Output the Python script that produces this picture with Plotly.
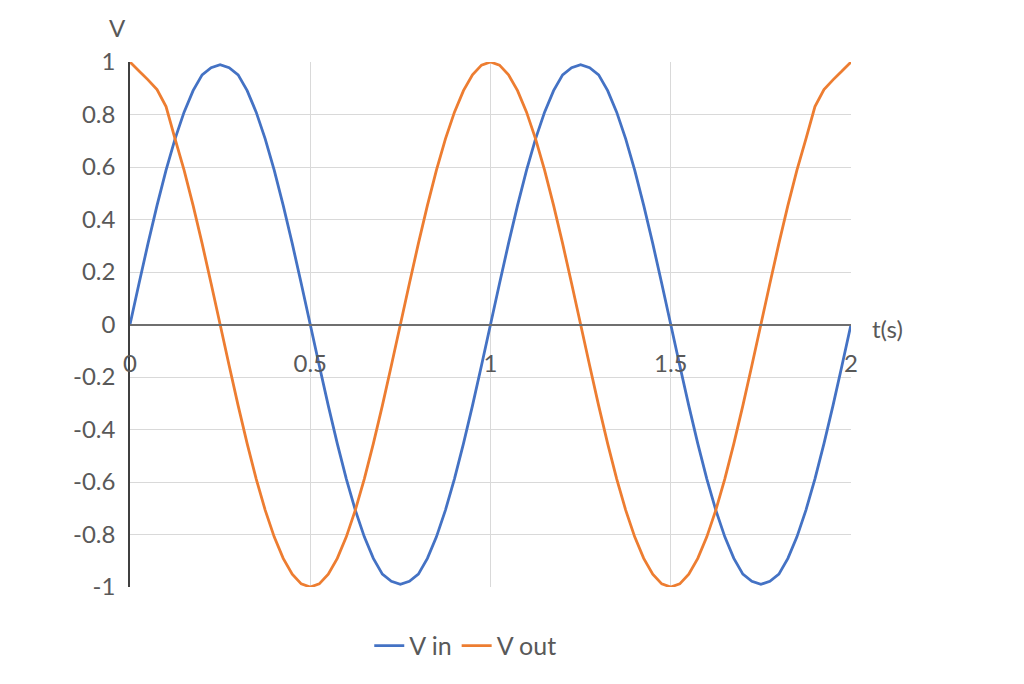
import plotly.graph_objects as go

# sample times (s), every 0.025 s
t = [round(i * 0.025, 3) for i in range(81)]

# values
v_in = [0, 0.156, 0.309, 0.454, 0.588, 0.707, 0.809, 0.891, 0.951, 0.978,
        0.99, 0.978, 0.951, 0.891, 0.809, 0.707, 0.588, 0.454, 0.309, 0.156,
        0, -0.156, -0.309, -0.454, -0.588, -0.707, -0.809, -0.891, -0.951, -0.978,
        -0.99, -0.978, -0.951, -0.891, -0.809, -0.707, -0.588, -0.454, -0.309, -0.156,
        0, 0.156, 0.309, 0.454, 0.588, 0.707, 0.809, 0.891, 0.951, 0.978,
        0.99, 0.978, 0.951, 0.891, 0.809, 0.707, 0.588, 0.454, 0.309, 0.156,
        0, -0.156, -0.309, -0.454, -0.588, -0.707, -0.809, -0.891, -0.951, -0.978,
        -0.99, -0.978, -0.951, -0.891, -0.809, -0.707, -0.588, -0.454, -0.309, -0.156,
        0]
v_out = [1, 0.966, 0.932, 0.895, 0.83, 0.707, 0.588, 0.454, 0.309, 0.156,
         0, -0.156, -0.309, -0.454, -0.588, -0.707, -0.809, -0.891, -0.951, -0.988,
         -1, -0.988, -0.951, -0.891, -0.809, -0.707, -0.588, -0.454, -0.309, -0.156,
         0, 0.156, 0.309, 0.454, 0.588, 0.707, 0.809, 0.891, 0.951, 0.988,
         1, 0.988, 0.951, 0.891, 0.809, 0.707, 0.588, 0.454, 0.309, 0.156,
         0, -0.156, -0.309, -0.454, -0.588, -0.707, -0.809, -0.891, -0.951, -0.988,
         -1, -0.988, -0.951, -0.891, -0.809, -0.707, -0.588, -0.454, -0.309, -0.156,
         0, 0.156, 0.309, 0.454, 0.588, 0.707, 0.83, 0.895, 0.932, 0.966,
         1]

x_ticks = [0, 0.5, 1, 1.5, 2]
x_labels = ["0", "0.5", "1", "1.5", "2"]
y_ticks = [-1, -0.8, -0.6, -0.4, -0.2, 0, 0.2, 0.4, 0.6, 0.8, 1]
y_labels = ["-1", "-0.8", "-0.6", "-0.4", "-0.2", "0", "0.2", "0.4", "0.6", "0.8", "1"]

font_family = "Lato, Noto Sans, sans-serif"
text_color = "#595959"

fig = go.Figure()
fig.add_trace(go.Scatter(
    x=t, y=v_in, name="V in", mode="lines",
    line=dict(color="#4472C4", width=2.8, simplify=False),
    cliponaxis=False,
))
fig.add_trace(go.Scatter(
    x=t, y=v_out, name="V out", mode="lines",
    line=dict(color="#ED7D31", width=2.8, simplify=False),
    cliponaxis=False,
))

# page body has an 8px margin, so the margins are pulled in by that much
fig.update_layout(
    width=1024, height=684,
    margin=dict(l=122, r=181, t=54, b=105),
    plot_bgcolor="white",
    paper_bgcolor="white",
    font=dict(family=font_family, size=24, color=text_color),
    showlegend=True,
    legend=dict(
        orientation="h", x=0.465, xanchor="center", y=-0.112, yanchor="middle",
        font=dict(size=25, color=text_color), itemwidth=30,
    ),
    xaxis=dict(
        range=[0, 2], tickvals=x_ticks, ticktext=x_labels,
        showgrid=True, gridcolor="#d9d9d9", gridwidth=1,
        anchor="free", position=0.5,
        showline=True, linecolor="#6f6f6f", linewidth=1.5,
        zeroline=False, ticks="", ticklabelstandoff=18, automargin=False,
    ),
    yaxis=dict(
        range=[-1, 1], tickvals=y_ticks, ticktext=y_labels,
        showgrid=True, gridcolor="#d9d9d9", gridwidth=1,
        showline=True, linecolor="#404040", linewidth=1.5,
        zeroline=False, ticks="", ticklabelstandoff=8, automargin=False,
    ),
    annotations=[
        dict(text="V", x=-0.017, y=1.065, xref="paper", yref="paper",
             xanchor="center", yanchor="middle",
             showarrow=False, font=dict(size=24, color=text_color)),
        dict(text="t(s)", x=1.051, y=0.493, xref="paper", yref="paper",
             xanchor="center", yanchor="middle",
             showarrow=False, font=dict(size=24, color=text_color)),
    ],
)

fig.write_html("out.html")
